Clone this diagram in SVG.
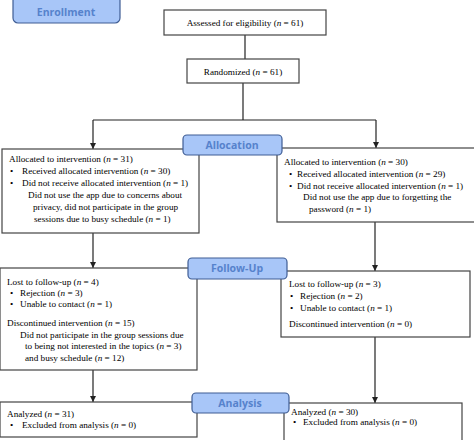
<svg xmlns="http://www.w3.org/2000/svg" width="474" height="440" viewBox="0 0 474 440">
<defs>
<marker id="arr" viewBox="0 0 10 10" refX="10" refY="5" markerWidth="6" markerHeight="6" markerUnits="userSpaceOnUse" orient="auto">
<path d="M0,0 L10,5 L0,10 z" fill="#222"/>
</marker>
<style>
.box{fill:#fff;stroke:#444;stroke-width:1.2}
.lab rect{fill:#a8c6f8;stroke:#3f5d94;stroke-width:1.2}
.lab text{font-family:"Open Sans","Liberation Sans",sans-serif;font-weight:bold;font-size:10.5px;fill:#5682cc;text-anchor:middle}
.t{font-family:"Liberation Serif","Times New Roman",serif;font-size:9.2px;fill:#000}
.c{text-anchor:middle}
.i{font-style:italic}
.ln{stroke:#222;stroke-width:1.2;fill:none}
</style>
</defs>
<rect width="474" height="440" fill="#fff"/>
<g id="connectors">
<line class="ln" x1="245" y1="35" x2="245" y2="59"/>
<line class="ln" x1="243" y1="83" x2="243" y2="120"/>
<polyline class="ln" points="93,120 376,120"/>
<line class="ln" x1="93" y1="120" x2="93" y2="149" marker-end="url(#arr)"/>
<line class="ln" x1="376" y1="120" x2="376" y2="148" marker-end="url(#arr)"/>
<line class="ln" x1="93" y1="233" x2="93" y2="268" marker-end="url(#arr)"/>
<line class="ln" x1="375" y1="222" x2="375" y2="271" marker-end="url(#arr)"/>
<line class="ln" x1="93" y1="370" x2="93" y2="402" marker-end="url(#arr)"/>
<line class="ln" x1="375" y1="337" x2="375" y2="403" marker-end="url(#arr)"/>
</g>
<g id="assessed">
<rect class="box" x="164" y="10" width="162" height="25"/>
<text class="t c" x="245" y="26">Assessed for eligibility (<tspan class="i">n</tspan> = 61)</text>
</g>
<g id="randomized">
<rect class="box" x="187" y="59" width="112" height="24"/>
<text class="t c" x="243" y="75">Randomized (<tspan class="i">n</tspan> = 61)</text>
</g>
<g id="alloc-left">
<rect class="box" x="2" y="149" width="197" height="84"/>
<text class="t" x="9" y="162">Allocated to intervention (<tspan class="i">n</tspan> = 31)</text>
<text class="t" x="10" y="174">•</text>
<text class="t" x="22" y="174">Received allocated intervention (<tspan class="i">n</tspan> = 30)</text>
<text class="t" x="10" y="186">•</text>
<text class="t" x="22" y="186">Did not receive allocated intervention (<tspan class="i">n</tspan> = 1)</text>
<text class="t" x="28" y="198">Did not use the app due to concerns about</text>
<text class="t" x="33" y="210">privacy, did not participate in the group</text>
<text class="t" x="34" y="222">sessions due to busy schedule (<tspan class="i">n</tspan> = 1)</text>
</g>
<g id="alloc-right">
<rect class="box" x="277" y="148" width="200" height="74"/>
<text class="t" x="284" y="165">Allocated to intervention (<tspan class="i">n</tspan> = 30)</text>
<text class="t" x="289" y="177">•</text>
<text class="t" x="297" y="177">Received allocated intervention (<tspan class="i">n</tspan> = 29)</text>
<text class="t" x="289" y="189">•</text>
<text class="t" x="297" y="189">Did not receive allocated intervention (<tspan class="i">n</tspan> = 1)</text>
<text class="t" x="303" y="200">Did not use the app due to forgetting the</text>
<text class="t" x="309" y="212">password (<tspan class="i">n</tspan> = 1)</text>
</g>
<g id="follow-left">
<rect class="box" x="0" y="268" width="197" height="102"/>
<text class="t" x="7" y="285">Lost to follow-up (<tspan class="i">n</tspan> = 4)</text>
<text class="t" x="10" y="296">•</text>
<text class="t" x="20" y="296">Rejection (<tspan class="i">n</tspan> = 3)</text>
<text class="t" x="10" y="307">•</text>
<text class="t" x="20" y="307">Unable to contact (<tspan class="i">n</tspan> = 1)</text>
<text class="t" x="7" y="326">Discontinued intervention (<tspan class="i">n</tspan> = 15)</text>
<text class="t" x="20" y="338">Did not participate in the group sessions due</text>
<text class="t" x="25" y="349">to being not interested in the topics (<tspan class="i">n</tspan> = 3)</text>
<text class="t" x="25" y="361">and busy schedule (<tspan class="i">n</tspan> = 12)</text>
</g>
<g id="follow-right">
<rect class="box" x="281" y="271" width="189" height="66"/>
<text class="t" x="289" y="287">Lost to follow-up (<tspan class="i">n</tspan> = 3)</text>
<text class="t" x="290" y="299">•</text>
<text class="t" x="300" y="299">Rejection (<tspan class="i">n</tspan> = 2)</text>
<text class="t" x="290" y="311">•</text>
<text class="t" x="300" y="311">Unable to contact (<tspan class="i">n</tspan> = 1)</text>
<text class="t" x="289" y="327">Discontinued intervention (<tspan class="i">n</tspan> = 0)</text>
</g>
<g id="analysis-left">
<rect class="box" x="0" y="402" width="197" height="35"/>
<text class="t" x="7" y="417">Analyzed (<tspan class="i">n</tspan> = 31)</text>
<text class="t" x="10" y="428">•</text>
<text class="t" x="22" y="428">Excluded from analysis (<tspan class="i">n</tspan> = 0)</text>
</g>
<g id="analysis-right">
<rect class="box" x="284" y="403" width="178" height="45"/>
<text class="t" x="291" y="415">Analyzed (<tspan class="i">n</tspan> = 30)</text>
<text class="t" x="293" y="425">•</text>
<text class="t" x="303" y="425">Excluded from analysis (<tspan class="i">n</tspan> = 0)</text>
</g>
<g id="label-enrollment" class="lab">
<rect x="13" y="-8" width="107" height="31" rx="5"/>
<text x="66" y="16">Enrollment</text>
</g>
<g id="label-allocation" class="lab">
<rect x="183" y="135" width="99" height="20" rx="4"/>
<text x="232" y="149">Allocation</text>
</g>
<g id="label-followup" class="lab">
<rect x="188" y="258" width="99" height="21" rx="4"/>
<text x="237" y="272">Follow-Up</text>
</g>
<g id="label-analysis" class="lab">
<rect x="192" y="393" width="97" height="20" rx="4"/>
<text x="240" y="407">Analysis</text>
</g>
</svg>
